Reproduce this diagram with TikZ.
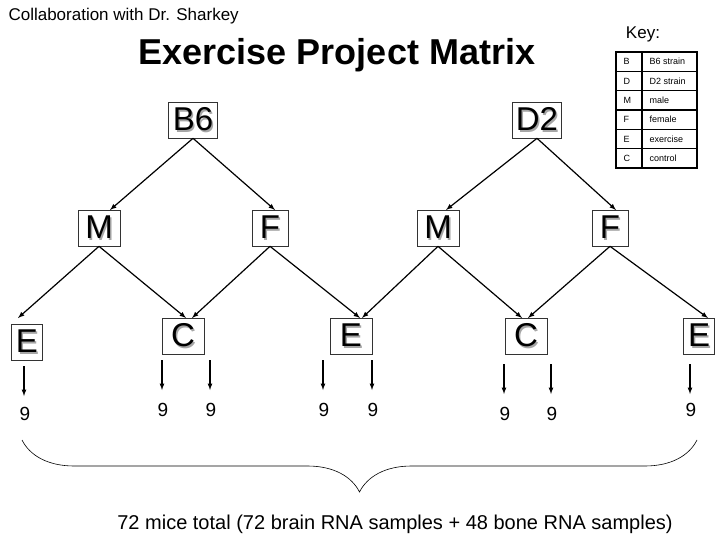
\documentclass[tikz,border=0pt]{standalone}
\usepackage{fontspec}
\setmainfont{Liberation Sans}
\usetikzlibrary{decorations.pathreplacing}
\begin{document}
\begin{tikzpicture}[x=1pt,y=-1pt,
  lvl/.style={draw=black!80,line width=0.6pt,minimum height=36pt,inner sep=2pt,font=\fontsize{33}{35}\selectfont},
  arr/.style={-latex,line width=1.2pt},
  nine/.style={font=\fontsize{19}{21}\selectfont},
  keyc/.style={font=\fontsize{9}{10}\selectfont,anchor=west}]
\useasboundingbox (0,0) rectangle (720,540);
\newcommand{\shd}[1]{\makebox[0pt][l]{\hspace{1.5pt}\raisebox{-1.5pt}{\color{black!35}#1}}#1}
\node[anchor=west,font=\fontsize{17}{19}\selectfont] (hdr) at (5,16) {Collaboration with Dr. Sharkey};
\node[font=\fontsize{36}{38}\selectfont\bfseries] (title) at (337,55) {Exercise Project Matrix};
\node[lvl,minimum width=49pt] (b6) at (193,120) {\shd{B6}};
\node[lvl,minimum width=49pt] (d2) at (537,120) {\shd{D2}};
\node[lvl,minimum width=42pt] (m1) at (99,228) {\shd{M}};
\node[lvl,minimum width=36pt] (f1) at (270,228) {\shd{F}};
\node[lvl,minimum width=42pt] (m2) at (438,228) {\shd{M}};
\node[lvl,minimum width=36pt] (f2) at (610,228) {\shd{F}};
\node[lvl,minimum width=31pt] (e1) at (27,342) {\shd{E}};
\node[lvl,minimum width=42pt] (c1) at (183,336) {\shd{C}};
\node[lvl,minimum width=42pt] (e2) at (351,336) {\shd{E}};
\node[lvl,minimum width=42pt] (c2) at (526,336) {\shd{C}};
\node[lvl,minimum width=31pt] (e3) at (699,336) {\shd{E}};
% tips
\coordinate (tm1) at (110,210); \coordinate (tf1) at (275,210);
\coordinate (tm2) at (446,210); \coordinate (tf2) at (616,210);
\coordinate (te1) at (18,318); \coordinate (tc1a) at (186,318); \coordinate (tc1b) at (192,318);
\coordinate (te2a) at (360,318); \coordinate (te2b) at (362,318);
\coordinate (tc2a) at (522,318); \coordinate (tc2b) at (528,318); \coordinate (te3) at (708,318);
\draw[arr] (b6.south) -- (tm1); \draw[arr] (b6.south) -- (tf1);
\draw[arr] (d2.south) -- (tm2); \draw[arr] (d2.south) -- (tf2);
\draw[arr] (m1.south) -- (te1); \draw[arr] (m1.south) -- (tc1a);
\draw[arr] (f1.south) -- (tc1b); \draw[arr] (f1.south) -- (te2a);
\draw[arr] (m2.south) -- (te2b); \draw[arr] (m2.south) -- (tc2a);
\draw[arr] (f2.south) -- (tc2b); \draw[arr] (f2.south) -- (te3);
% counts
\foreach \x/\ya/\yb/\yt/\n in {24/366/396/414/a,162/360/390/410/b,210/360/390/410/c,323/360/390/410/d,372/360/390/410/e,504/364/394/414/f,551/364/394/414/g,690/364/394/410/h}{
  \coordinate (s\n) at (\x,\ya); \coordinate (t\n) at (\x,\yb);
  \draw[arr] (s\n) -- (t\n);
  \node[nine] (n\n) at (\x+1,\yt) {9};
}
\coordinate (bl) at (22,440); \coordinate (br) at (697,440);
\draw[line width=0.6pt,decorate,decoration={brace,mirror,amplitude=52pt}] (bl) -- (br);
\node[font=\fontsize{20}{22}\selectfont] (tot) at (395,524) {72 mice total (72 brain RNA samples + 48 bone RNA samples)};
% key
\node[font=\fontsize{17}{19}\selectfont] (keyt) at (643,34) {Key:};
\draw[line width=1.2pt] (616,52) rectangle (697,168);
\foreach \i/\a/\b in {0/B/B6 strain,1/D/D2 strain,2/M/male,3/F/female,4/E/exercise,5/C/control}{
  \pgfmathsetmacro{\yy}{52+\i*19.33}
  \pgfmathsetmacro{\yc}{\yy+9.67}
  \ifnum\i>0 \draw[line width=1.2pt] (616,\yy) -- (697,\yy);\fi
  \node[keyc] (ka\i) at (620,\yc) {\a};
  \node[keyc] (kb\i) at (646,\yc) {\b};
}
\draw[line width=1.2pt] (642,52) -- (642,168);
\end{tikzpicture}
\end{document}
